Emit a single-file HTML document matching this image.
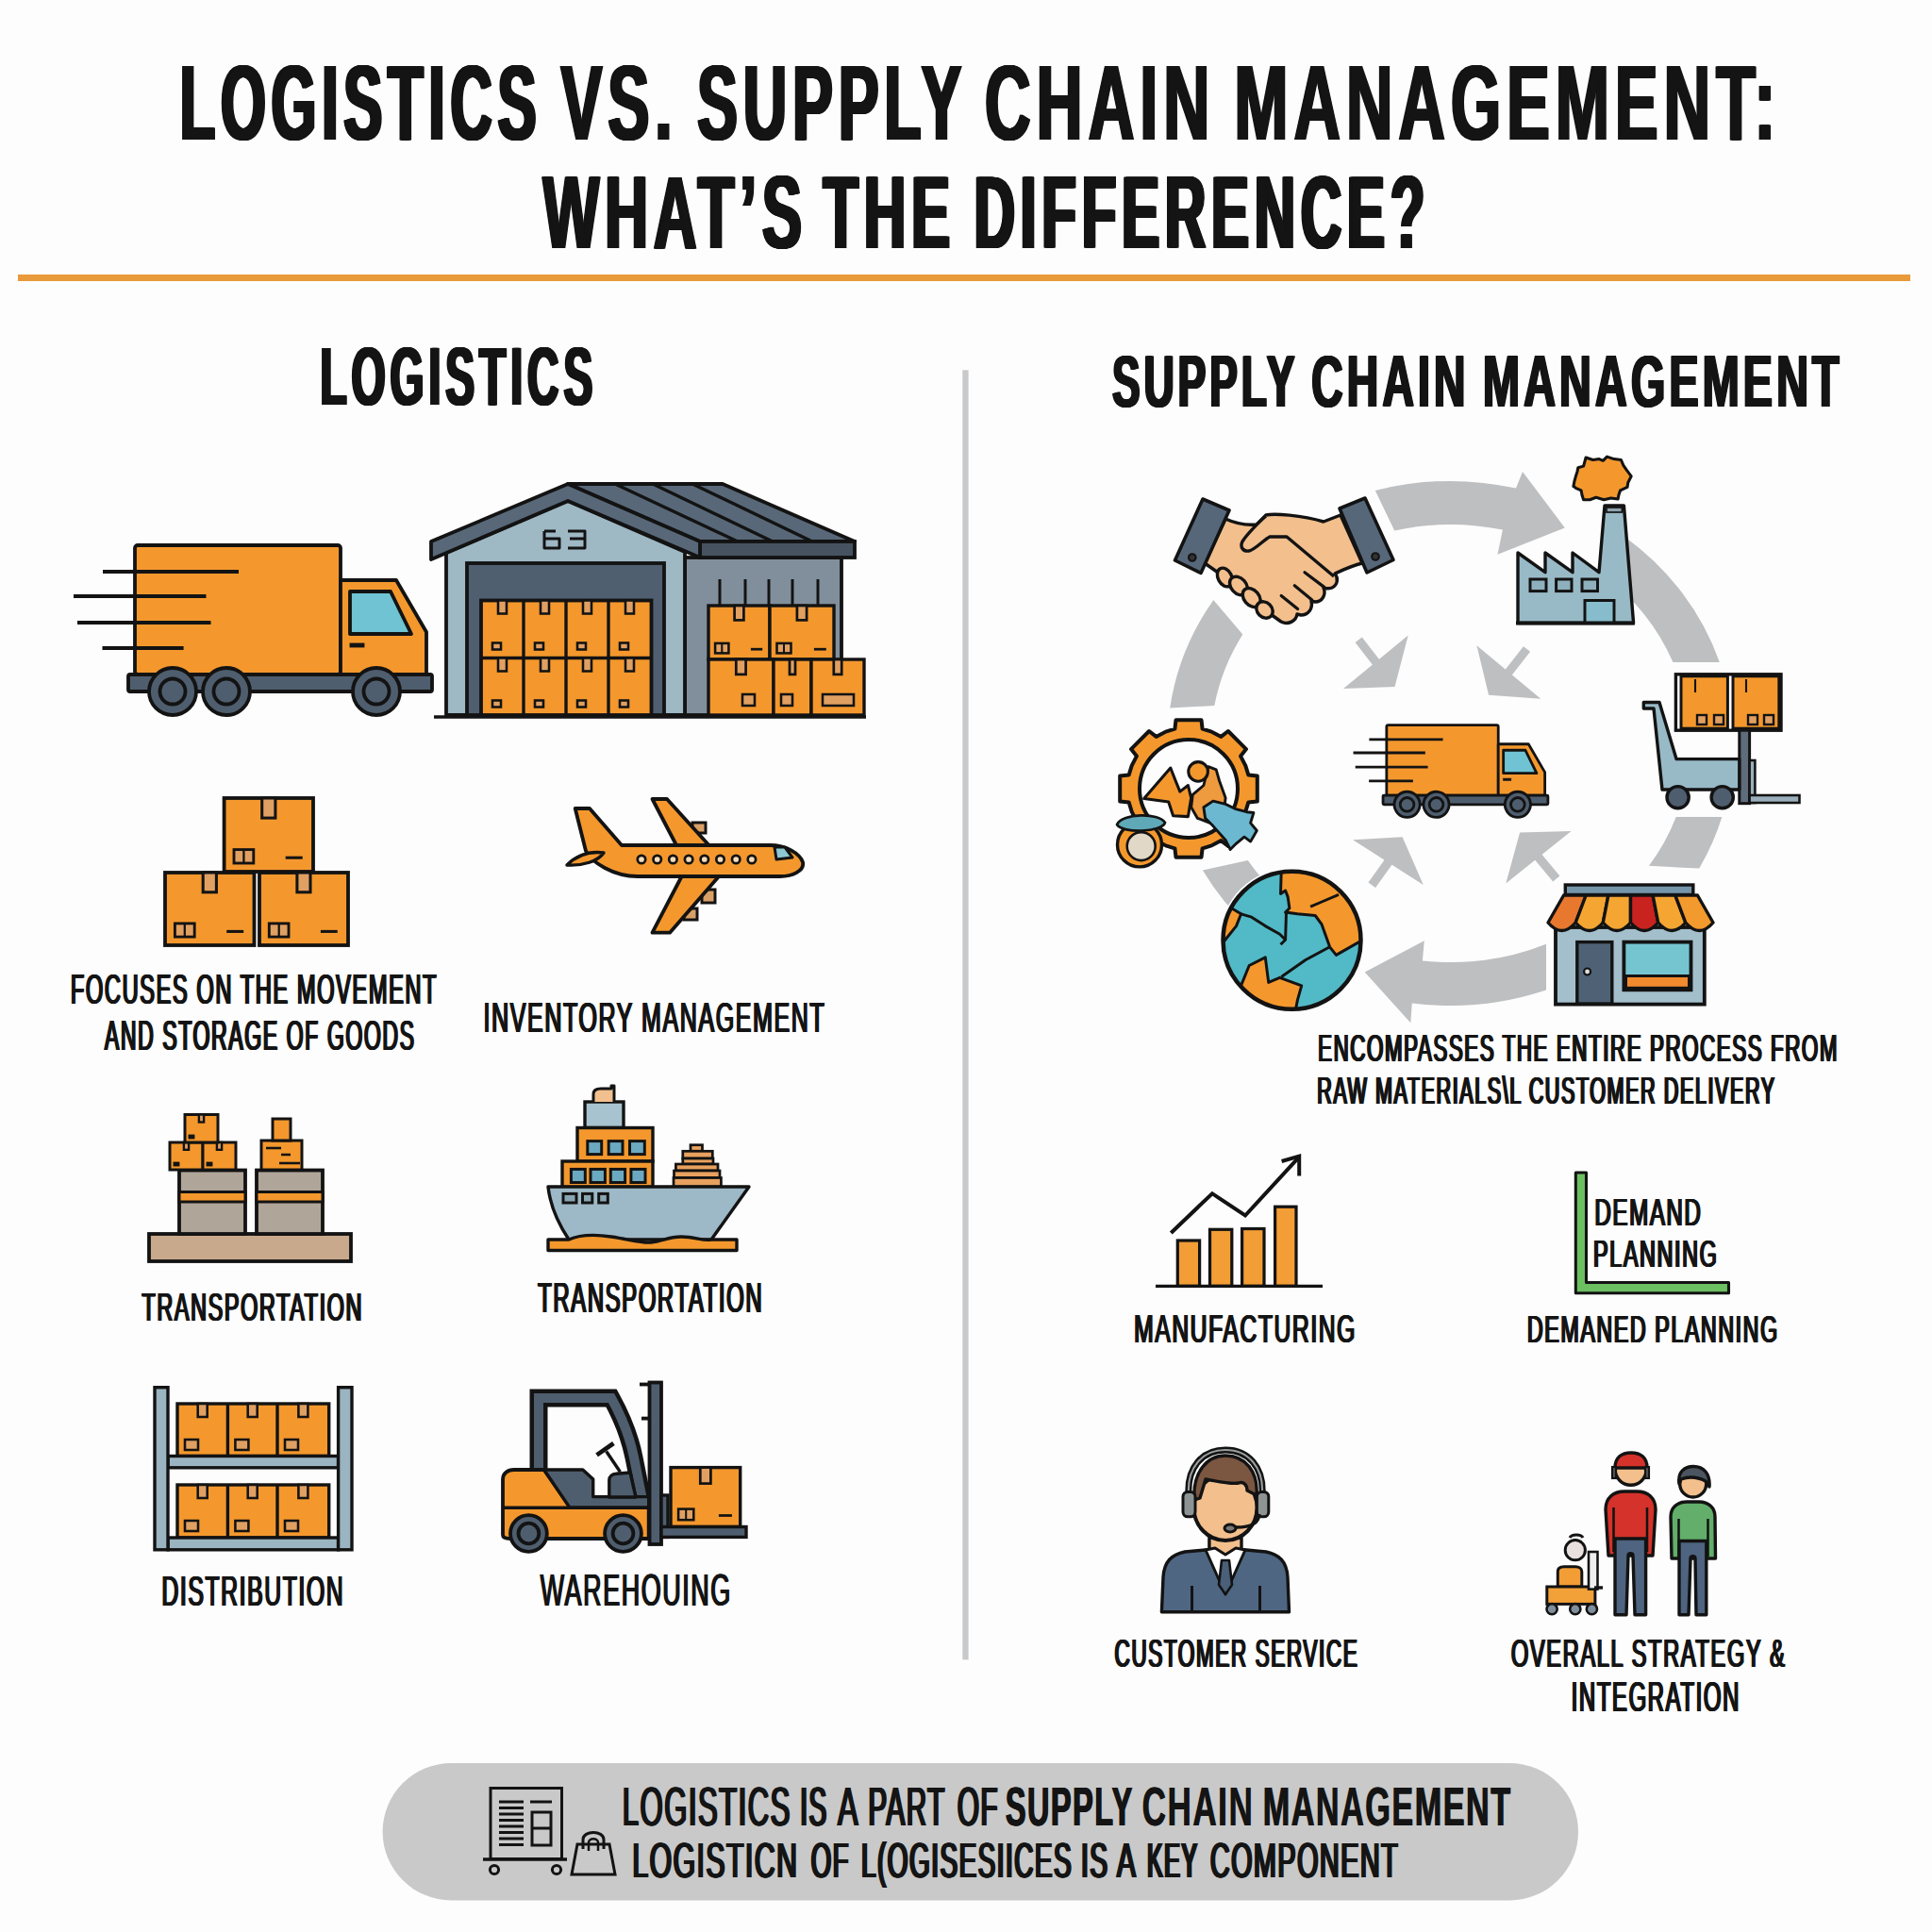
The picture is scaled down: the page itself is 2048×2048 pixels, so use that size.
<!DOCTYPE html>
<html><head><meta charset="utf-8"><title>Logistics vs Supply Chain Management</title>
<style>html,body{margin:0;padding:0;background:#FDFDFD;overflow:hidden;} svg{display:block;} text{font-family:"Liberation Sans",sans-serif;}</style>
</head><body>
<svg width="2048" height="2048" viewBox="0 0 2048 2048">
<rect width="2048" height="2048" fill="#FDFDFD"/>
<rect x="19" y="291" width="2006" height="7" fill="#E99A3B"/>
<rect x="1020.3" y="392.3" width="6.3" height="1367" fill="#C8C9CB"/>
<rect x="405.6" y="1869" width="1267.4" height="145.4" rx="72.7" fill="#C9C9C9"/>
<g fill="#BEBFC1"><path d="M1457.8,520.0 A300.0,278.0 0 0 1 1607.0,517.6 L1614.0,500.0 L1658.8,559.5 L1587.5,587.7 L1592.9,561.6 A254.0,232.0 0 0 0 1478.2,562.4 Z"/><path d="M1722.2,568.9 A300.0,278.0 0 0 1 1822.8,702.0 L1773.4,702.0 A254.0,232.0 0 0 0 1700.8,610.3 Z"/><path d="M1825.4,866.0 A300.0,278.0 0 0 1 1801.2,920.6 L1748.0,917.8 A254.0,232.0 0 0 0 1776.7,866.0 Z"/><path d="M1639.0,1049.6 A300.0,278.0 0 0 1 1496.8,1063.4 L1495.3,1084.3 L1446.7,1030.4 L1509.8,997.3 L1507.9,1018.4 A254.0,232.0 0 0 0 1639.0,1000.7 Z"/><path d="M1325.4,984.6 A300.0,278.0 0 0 1 1274.9,922.4 L1322.8,912.0 A254.0,232.0 0 0 0 1357.9,952.0 Z"/><path d="M1240.2,750.5 A300.0,278.0 0 0 1 1286.3,636.1 L1317.3,672.4 A254.0,232.0 0 0 0 1287.3,748.0 Z"/></g>
<g fill="#BEBFC1"><polygon points="1436.6,681.0 1443.8,675.4 1465.7,703.7 1458.4,709.3"/><polygon points="1492.7,673.5 1478.5,728.0 1424.0,730.0"/><polygon points="1614.9,685.2 1622.1,690.8 1599.3,720.1 1592.0,714.4"/><polygon points="1565.4,684.2 1578.1,736.7 1633.3,740.8"/><polygon points="1458.1,941.0 1450.5,935.6 1471.1,906.5 1478.8,911.9"/><polygon points="1434.1,890.2 1486.6,887.2 1508.8,938.0"/><polygon points="1653.4,928.6 1646.2,934.6 1623.5,907.2 1630.7,901.2"/><polygon points="1665.6,881.0 1611.1,882.4 1596.3,936.6"/></g>
<g><rect x="143.0" y="578.0" width="218.0" height="137.0" fill="#F4982D" stroke="#131313" stroke-width="3.82" rx="3"/><polygon points="361.0,615.0 420.0,615.0 452.0,670.0 452.0,715.0 361.0,715.0" fill="#F4982D" stroke="#131313" stroke-width="3.82" stroke-linejoin="round"/><polygon points="371.0,627.0 414.0,627.0 436.0,672.0 371.0,672.0" fill="#6FC3D2" stroke="#131313" stroke-width="3.82" stroke-linejoin="round"/><rect x="371.0" y="682.0" width="15.0" height="4.0" fill="#131313" stroke="#131313" stroke-width="0.85"/><rect x="136.0" y="715.0" width="322.0" height="18.0" fill="#4F5E6E" stroke="#131313" stroke-width="3.82" rx="2"/><circle cx="183.0" cy="733.0" r="25.0" fill="#4F5E6E" stroke="#131313" stroke-width="3.82"/><circle cx="183.0" cy="733.0" r="13.5" fill="#4F5E6E" stroke="#131313" stroke-width="3.82"/><circle cx="240.0" cy="733.0" r="25.0" fill="#4F5E6E" stroke="#131313" stroke-width="3.82"/><circle cx="240.0" cy="733.0" r="13.5" fill="#4F5E6E" stroke="#131313" stroke-width="3.82"/><circle cx="399.0" cy="733.0" r="25.0" fill="#4F5E6E" stroke="#131313" stroke-width="3.82"/><circle cx="399.0" cy="733.0" r="13.5" fill="#4F5E6E" stroke="#131313" stroke-width="3.82"/><line x1="109.0" y1="606.0" x2="253.0" y2="606.0" stroke="#131313" stroke-width="3.82" stroke-linecap="butt"/><line x1="78.0" y1="632.0" x2="218.5" y2="632.0" stroke="#131313" stroke-width="3.82" stroke-linecap="butt"/><line x1="82.0" y1="660.0" x2="223.5" y2="660.0" stroke="#131313" stroke-width="3.82" stroke-linecap="butt"/><line x1="108.5" y1="687.0" x2="194.6" y2="687.0" stroke="#131313" stroke-width="3.82" stroke-linecap="butt"/></g>
<g transform="translate(1392.2,454.8) scale(0.543)"><g><rect x="143.0" y="578.0" width="218.0" height="137.0" fill="#F4982D" stroke="#131313" stroke-width="5.16" rx="3"/><polygon points="361.0,615.0 420.0,615.0 452.0,670.0 452.0,715.0 361.0,715.0" fill="#F4982D" stroke="#131313" stroke-width="5.16" stroke-linejoin="round"/><polygon points="371.0,627.0 414.0,627.0 436.0,672.0 371.0,672.0" fill="#6FC3D2" stroke="#131313" stroke-width="5.16" stroke-linejoin="round"/><rect x="371.0" y="682.0" width="15.0" height="4.0" fill="#131313" stroke="#131313" stroke-width="1.15"/><rect x="136.0" y="715.0" width="322.0" height="18.0" fill="#4F5E6E" stroke="#131313" stroke-width="5.16" rx="2"/><circle cx="183.0" cy="733.0" r="25.0" fill="#4F5E6E" stroke="#131313" stroke-width="5.16"/><circle cx="183.0" cy="733.0" r="13.5" fill="#4F5E6E" stroke="#131313" stroke-width="5.16"/><circle cx="240.0" cy="733.0" r="25.0" fill="#4F5E6E" stroke="#131313" stroke-width="5.16"/><circle cx="240.0" cy="733.0" r="13.5" fill="#4F5E6E" stroke="#131313" stroke-width="5.16"/><circle cx="399.0" cy="733.0" r="25.0" fill="#4F5E6E" stroke="#131313" stroke-width="5.16"/><circle cx="399.0" cy="733.0" r="13.5" fill="#4F5E6E" stroke="#131313" stroke-width="5.16"/><line x1="109.0" y1="606.0" x2="253.0" y2="606.0" stroke="#131313" stroke-width="5.16" stroke-linecap="butt"/><line x1="78.0" y1="632.0" x2="218.5" y2="632.0" stroke="#131313" stroke-width="5.16" stroke-linecap="butt"/><line x1="82.0" y1="660.0" x2="223.5" y2="660.0" stroke="#131313" stroke-width="5.16" stroke-linecap="butt"/><line x1="108.5" y1="687.0" x2="194.6" y2="687.0" stroke="#131313" stroke-width="5.16" stroke-linecap="butt"/></g></g>
<g><rect x="726.0" y="591.0" width="166.0" height="167.0" fill="#808F9B" stroke="#131313" stroke-width="3.82"/><polygon points="473.0,586.0 602.0,531.0 726.0,585.0 726.0,758.0 473.0,758.0" fill="#9EB8C4" stroke="#131313" stroke-width="3.82" stroke-linejoin="round"/><polygon points="602.0,513.0 766.0,513.0 906.0,574.0 742.0,574.0" fill="#586878" stroke="#131313" stroke-width="3.82" stroke-linejoin="round"/><line x1="652.0" y1="513.0" x2="782.0" y2="574.0" stroke="#131313" stroke-width="3.40" stroke-linecap="butt"/><line x1="692.0" y1="513.0" x2="819.0" y2="574.0" stroke="#131313" stroke-width="3.40" stroke-linecap="butt"/><line x1="734.0" y1="513.0" x2="861.0" y2="574.0" stroke="#131313" stroke-width="3.40" stroke-linecap="butt"/><rect x="742.0" y="574.0" width="164.0" height="17.0" fill="#46525F" stroke="#131313" stroke-width="3.82"/><polygon points="457.0,574.0 602.0,513.0 742.0,574.0 742.0,591.0 602.0,531.0 457.0,593.0" fill="#586878" stroke="#131313" stroke-width="3.82" stroke-linejoin="round"/><path d="M577,563 L589,563 M577,563 L577,581 L593,581 L593,571 L577,571" fill="none" stroke="#131313" stroke-width="2.98" stroke-linejoin="round"/><path d="M602,563 L620,563 L620,581 L602,581 M604,571 L620,571" fill="none" stroke="#131313" stroke-width="2.98" stroke-linejoin="round"/><rect x="495.0" y="597.0" width="209.0" height="161.0" fill="#4F5F70" stroke="#131313" stroke-width="3.82"/><rect x="510.0" y="636.5" width="180.5" height="121.5" fill="#F4982D" stroke="#131313" stroke-width="3.82"/><line x1="555.0" y1="636.5" x2="555.0" y2="758.0" stroke="#131313" stroke-width="3.40" stroke-linecap="butt"/><line x1="600.0" y1="636.5" x2="600.0" y2="758.0" stroke="#131313" stroke-width="3.40" stroke-linecap="butt"/><line x1="645.0" y1="636.5" x2="645.0" y2="758.0" stroke="#131313" stroke-width="3.40" stroke-linecap="butt"/><line x1="510.0" y1="697.5" x2="690.5" y2="697.5" stroke="#131313" stroke-width="3.40" stroke-linecap="butt"/><rect x="528.0" y="636.5" width="9.0" height="14.0" fill="#E0A062" stroke="#131313" stroke-width="2.55"/><rect x="522.0" y="681.5" width="9.0" height="7.0" fill="#E0A062" stroke="#131313" stroke-width="2.55"/><rect x="528.0" y="697.5" width="9.0" height="14.0" fill="#E0A062" stroke="#131313" stroke-width="2.55"/><rect x="522.0" y="742.5" width="9.0" height="7.0" fill="#E0A062" stroke="#131313" stroke-width="2.55"/><rect x="573.0" y="636.5" width="9.0" height="14.0" fill="#E0A062" stroke="#131313" stroke-width="2.55"/><rect x="567.0" y="681.5" width="9.0" height="7.0" fill="#E0A062" stroke="#131313" stroke-width="2.55"/><rect x="573.0" y="697.5" width="9.0" height="14.0" fill="#E0A062" stroke="#131313" stroke-width="2.55"/><rect x="567.0" y="742.5" width="9.0" height="7.0" fill="#E0A062" stroke="#131313" stroke-width="2.55"/><rect x="618.0" y="636.5" width="9.0" height="14.0" fill="#E0A062" stroke="#131313" stroke-width="2.55"/><rect x="612.0" y="681.5" width="9.0" height="7.0" fill="#E0A062" stroke="#131313" stroke-width="2.55"/><rect x="618.0" y="697.5" width="9.0" height="14.0" fill="#E0A062" stroke="#131313" stroke-width="2.55"/><rect x="612.0" y="742.5" width="9.0" height="7.0" fill="#E0A062" stroke="#131313" stroke-width="2.55"/><rect x="663.0" y="636.5" width="9.0" height="14.0" fill="#E0A062" stroke="#131313" stroke-width="2.55"/><rect x="657.0" y="681.5" width="9.0" height="7.0" fill="#E0A062" stroke="#131313" stroke-width="2.55"/><rect x="663.0" y="697.5" width="9.0" height="14.0" fill="#E0A062" stroke="#131313" stroke-width="2.55"/><rect x="657.0" y="742.5" width="9.0" height="7.0" fill="#E0A062" stroke="#131313" stroke-width="2.55"/><line x1="763.0" y1="614.0" x2="763.0" y2="642.0" stroke="#131313" stroke-width="2.98" stroke-linecap="butt"/><line x1="790.0" y1="614.0" x2="790.0" y2="642.0" stroke="#131313" stroke-width="2.98" stroke-linecap="butt"/><line x1="815.0" y1="614.0" x2="815.0" y2="642.0" stroke="#131313" stroke-width="2.98" stroke-linecap="butt"/><line x1="840.0" y1="614.0" x2="840.0" y2="642.0" stroke="#131313" stroke-width="2.98" stroke-linecap="butt"/><line x1="867.0" y1="614.0" x2="867.0" y2="642.0" stroke="#131313" stroke-width="2.98" stroke-linecap="butt"/><rect x="751.0" y="642.0" width="65.0" height="57.0" fill="#F4982D" stroke="#131313" stroke-width="3.40"/><rect x="778.6" y="642.0" width="9.8" height="15.4" fill="#E0A062" stroke="#131313" stroke-width="2.72"/><rect x="758.1" y="681.9" width="14.3" height="10.5" fill="#E0A062" stroke="#131313" stroke-width="2.55"/><line x1="765.3" y1="681.9" x2="765.3" y2="692.4" stroke="#131313" stroke-width="2.04" stroke-linecap="butt"/><line x1="795.9" y1="688.2" x2="808.2" y2="688.2" stroke="#131313" stroke-width="2.72" stroke-linecap="butt"/><rect x="816.0" y="642.0" width="68.0" height="57.0" fill="#F4982D" stroke="#131313" stroke-width="3.40"/><rect x="844.9" y="642.0" width="10.2" height="15.4" fill="#E0A062" stroke="#131313" stroke-width="2.72"/><rect x="823.5" y="681.9" width="15.0" height="10.5" fill="#E0A062" stroke="#131313" stroke-width="2.55"/><line x1="831.0" y1="681.9" x2="831.0" y2="692.4" stroke="#131313" stroke-width="2.04" stroke-linecap="butt"/><line x1="862.9" y1="688.2" x2="875.8" y2="688.2" stroke="#131313" stroke-width="2.72" stroke-linecap="butt"/><rect x="751.0" y="699.0" width="69.0" height="59.0" fill="#F4982D" stroke="#131313" stroke-width="3.40"/><rect x="780.3" y="699.0" width="10.3" height="15.9" fill="#E0A062" stroke="#131313" stroke-width="2.72"/><rect x="820.0" y="699.0" width="40.0" height="59.0" fill="#F4982D" stroke="#131313" stroke-width="3.40"/><rect x="837.0" y="699.0" width="6.0" height="15.9" fill="#E0A062" stroke="#131313" stroke-width="2.72"/><rect x="860.0" y="699.0" width="56.0" height="59.0" fill="#F4982D" stroke="#131313" stroke-width="3.40"/><rect x="883.8" y="699.0" width="8.4" height="15.9" fill="#E0A062" stroke="#131313" stroke-width="2.72"/><rect x="787.0" y="736.0" width="13.0" height="12.0" fill="#E0A062" stroke="#131313" stroke-width="2.55"/><rect x="872.0" y="736.0" width="33.0" height="12.0" fill="#E0A062" stroke="#131313" stroke-width="2.55"/><rect x="828.0" y="736.0" width="12.0" height="12.0" fill="#E0A062" stroke="#131313" stroke-width="2.55"/><line x1="460.0" y1="760.0" x2="918.0" y2="760.0" stroke="#131313" stroke-width="3.40" stroke-linecap="butt"/></g>
<rect x="237.6" y="846.0" width="94.4" height="78.0" fill="#F4982D" stroke="#131313" stroke-width="3.82"/><rect x="277.7" y="846.0" width="14.2" height="21.1" fill="#E0A062" stroke="#131313" stroke-width="3.06"/><rect x="248.0" y="900.6" width="20.8" height="14.4" fill="#E0A062" stroke="#131313" stroke-width="2.87"/><line x1="258.4" y1="900.6" x2="258.4" y2="915.0" stroke="#131313" stroke-width="2.29" stroke-linecap="butt"/><line x1="302.7" y1="909.2" x2="320.7" y2="909.2" stroke="#131313" stroke-width="3.06" stroke-linecap="butt"/><rect x="175.0" y="925.0" width="94.5" height="77.0" fill="#F4982D" stroke="#131313" stroke-width="3.82"/><rect x="215.2" y="925.0" width="14.2" height="20.8" fill="#E0A062" stroke="#131313" stroke-width="3.06"/><rect x="185.4" y="978.9" width="20.8" height="14.2" fill="#E0A062" stroke="#131313" stroke-width="2.87"/><line x1="195.8" y1="978.9" x2="195.8" y2="993.1" stroke="#131313" stroke-width="2.29" stroke-linecap="butt"/><line x1="240.2" y1="987.4" x2="258.2" y2="987.4" stroke="#131313" stroke-width="3.06" stroke-linecap="butt"/><rect x="275.0" y="925.0" width="94.0" height="77.0" fill="#F4982D" stroke="#131313" stroke-width="3.82"/><rect x="314.9" y="925.0" width="14.1" height="20.8" fill="#E0A062" stroke="#131313" stroke-width="3.06"/><rect x="285.3" y="978.9" width="20.7" height="14.2" fill="#E0A062" stroke="#131313" stroke-width="2.87"/><line x1="295.7" y1="978.9" x2="295.7" y2="993.1" stroke="#131313" stroke-width="2.29" stroke-linecap="butt"/><line x1="339.9" y1="987.4" x2="357.7" y2="987.4" stroke="#131313" stroke-width="3.06" stroke-linecap="butt"/>
<g><rect x="734.0" y="872.0" width="14.0" height="11.0" fill="#D9A066" stroke="#131313" stroke-width="2.98"/><rect x="744.0" y="943.0" width="14.0" height="14.0" fill="#D9A066" stroke="#131313" stroke-width="2.98"/><rect x="725.0" y="963.0" width="14.0" height="12.0" fill="#D9A066" stroke="#131313" stroke-width="2.98"/><polygon points="691.5,847.0 707.0,847.0 751.5,896.0 717.0,896.0" fill="#F4982D" stroke="#131313" stroke-width="3.82" stroke-linejoin="round"/><path d="M659,896 L625,857 L609.7,857 L621,902 C627,914 650,929 676,929 L827,929 C840,929 853,923 851,914 C848,905 834,896 816,896 Z" fill="#F4982D" stroke="#131313" stroke-width="3.82" stroke-linejoin="round"/><path d="M601,917 C611,907 624,902 640,904 C634,913 618,918 601,917 Z" fill="#F4982D" stroke="#131313" stroke-width="3.40" stroke-linejoin="round"/><polygon points="722.6,929.0 762.0,929.0 710.0,988.7 691.5,988.7" fill="#F4982D" stroke="#131313" stroke-width="3.82" stroke-linejoin="round"/><polygon points="821.0,898.0 832.0,898.0 840.0,909.0 823.0,911.0" fill="#8DC8D3" stroke="#131313" stroke-width="2.98" stroke-linejoin="round"/><circle cx="680.0" cy="911.0" r="4.2" fill="#F6DDBA" stroke="#131313" stroke-width="2.72"/><circle cx="696.7" cy="911.0" r="4.2" fill="#F6DDBA" stroke="#131313" stroke-width="2.72"/><circle cx="713.4" cy="911.0" r="4.2" fill="#F6DDBA" stroke="#131313" stroke-width="2.72"/><circle cx="730.1" cy="911.0" r="4.2" fill="#F6DDBA" stroke="#131313" stroke-width="2.72"/><circle cx="746.8" cy="911.0" r="4.2" fill="#F6DDBA" stroke="#131313" stroke-width="2.72"/><circle cx="763.5" cy="911.0" r="4.2" fill="#F6DDBA" stroke="#131313" stroke-width="2.72"/><circle cx="780.2" cy="911.0" r="4.2" fill="#F6DDBA" stroke="#131313" stroke-width="2.72"/><circle cx="796.9" cy="911.0" r="4.2" fill="#F6DDBA" stroke="#131313" stroke-width="2.72"/></g>
<g><rect x="158.0" y="1308.0" width="214.0" height="29.0" fill="#C9A98B" stroke="#131313" stroke-width="3.82"/><rect x="190.0" y="1240.5" width="70.0" height="67.5" fill="#B0A599" stroke="#131313" stroke-width="3.82"/><rect x="190.0" y="1263.5" width="70.0" height="10.5" fill="#F4982D" stroke="#131313" stroke-width="2.98"/><rect x="272.0" y="1240.5" width="70.0" height="67.5" fill="#B0A599" stroke="#131313" stroke-width="3.82"/><rect x="272.0" y="1263.5" width="70.0" height="10.5" fill="#F4982D" stroke="#131313" stroke-width="2.98"/><rect x="180.0" y="1211.0" width="35.0" height="29.0" fill="#F4982D" stroke="#131313" stroke-width="2.98"/><rect x="194.9" y="1211.0" width="5.2" height="7.8" fill="#E0A062" stroke="#131313" stroke-width="2.38"/><rect x="215.0" y="1211.0" width="35.0" height="29.0" fill="#F4982D" stroke="#131313" stroke-width="2.98"/><rect x="229.9" y="1211.0" width="5.2" height="7.8" fill="#E0A062" stroke="#131313" stroke-width="2.38"/><rect x="196.0" y="1181.5" width="35.0" height="29.5" fill="#F4982D" stroke="#131313" stroke-width="2.98"/><rect x="210.9" y="1181.5" width="5.2" height="8.0" fill="#E0A062" stroke="#131313" stroke-width="2.38"/><rect x="277.0" y="1209.0" width="43.0" height="31.0" fill="#F4982D" stroke="#131313" stroke-width="2.98"/><rect x="289.0" y="1186.0" width="19.0" height="23.0" fill="#F4982D" stroke="#131313" stroke-width="2.98"/><line x1="282.0" y1="1217.0" x2="298.0" y2="1217.0" stroke="#131313" stroke-width="2.55" stroke-linecap="butt"/><line x1="298.0" y1="1224.0" x2="308.0" y2="1224.0" stroke="#131313" stroke-width="2.55" stroke-linecap="butt"/><line x1="296.0" y1="1233.0" x2="318.0" y2="1233.0" stroke="#131313" stroke-width="2.55" stroke-linecap="butt"/><rect x="184.0" y="1232.0" width="6.0" height="4.0" fill="#131313" stroke="#131313" stroke-width="0.85"/><rect x="219.0" y="1232.0" width="6.0" height="4.0" fill="#131313" stroke="#131313" stroke-width="0.85"/><rect x="200.0" y="1203.0" width="6.0" height="4.0" fill="#131313" stroke="#131313" stroke-width="0.85"/></g>
<g><rect x="620.0" y="1168.0" width="41.0" height="27.5" fill="#A7C3D0" stroke="#131313" stroke-width="3.40"/><path d="M629,1168 L629,1160 C629,1156 632,1154 637,1154 L648,1154 L648,1151 L651,1151 L651,1168" fill="#F2C08F" stroke="#131313" stroke-width="2.98" stroke-linejoin="round"/><rect x="612.0" y="1195.5" width="80.0" height="35.5" fill="#F4982D" stroke="#131313" stroke-width="3.40"/><rect x="596.0" y="1231.0" width="96.0" height="27.4" fill="#F4982D" stroke="#131313" stroke-width="3.40"/><rect x="622.8" y="1209.6" width="14.9" height="14.0" fill="#6BA9C1" stroke="#131313" stroke-width="2.98"/><rect x="645.2" y="1209.6" width="14.8" height="14.0" fill="#6BA9C1" stroke="#131313" stroke-width="2.98"/><rect x="667.5" y="1209.6" width="15.8" height="14.0" fill="#6BA9C1" stroke="#131313" stroke-width="2.98"/><rect x="605.4" y="1239.4" width="14.9" height="14.1" fill="#6BA9C1" stroke="#131313" stroke-width="2.98"/><rect x="626.0" y="1239.4" width="15.4" height="14.1" fill="#6BA9C1" stroke="#131313" stroke-width="2.98"/><rect x="647.3" y="1239.4" width="15.3" height="14.1" fill="#6BA9C1" stroke="#131313" stroke-width="2.98"/><rect x="668.9" y="1239.4" width="15.1" height="14.1" fill="#6BA9C1" stroke="#131313" stroke-width="2.98"/><rect x="732.0" y="1213.7" width="12.5" height="6.6" fill="#E8A15E" stroke="#131313" stroke-width="2.72"/><rect x="723.8" y="1220.3" width="31.5" height="7.7" fill="#E8A15E" stroke="#131313" stroke-width="2.72"/><rect x="723.8" y="1228.0" width="32.2" height="6.0" fill="#E8A15E" stroke="#131313" stroke-width="2.72"/><rect x="716.4" y="1234.0" width="44.6" height="7.0" fill="#E8A15E" stroke="#131313" stroke-width="2.72"/><rect x="714.5" y="1241.0" width="48.5" height="7.5" fill="#E8A15E" stroke="#131313" stroke-width="2.72"/><rect x="714.0" y="1248.5" width="50.4" height="9.5" fill="#E8A15E" stroke="#131313" stroke-width="2.72"/><path d="M581,1258 L794,1258 L754,1314 L603,1314 C591,1296 583,1276 581,1258 Z" fill="#9DB8C6" stroke="#131313" stroke-width="3.40" stroke-linejoin="round"/><rect x="597.0" y="1265.4" width="14.0" height="9.6" fill="#8AA5B3" stroke="#131313" stroke-width="2.98"/><rect x="617.5" y="1265.4" width="10.3" height="9.6" fill="#8AA5B3" stroke="#131313" stroke-width="2.98"/><rect x="634.7" y="1265.4" width="9.6" height="9.6" fill="#8AA5B3" stroke="#131313" stroke-width="2.98"/><path d="M581,1314 L603,1314 C612,1310 628,1308 648,1311 C668,1314 680,1318 690,1317 C702,1316 708,1311 722,1311 C738,1311 745,1316 754,1314 L781,1314 L781,1325.5 L581,1325.5 Z" fill="#F4982D" stroke="#131313" stroke-width="3.40" stroke-linejoin="round"/></g>
<g><rect x="188.0" y="1488.0" width="160.7" height="55.5" fill="#F4982D" stroke="#131313" stroke-width="3.40"/><rect x="188.0" y="1574.0" width="160.7" height="56.0" fill="#F4982D" stroke="#131313" stroke-width="3.40"/><line x1="241.4" y1="1488.0" x2="241.4" y2="1543.5" stroke="#131313" stroke-width="3.40" stroke-linecap="butt"/><line x1="241.4" y1="1574.0" x2="241.4" y2="1630.0" stroke="#131313" stroke-width="3.40" stroke-linecap="butt"/><line x1="294.0" y1="1488.0" x2="294.0" y2="1543.5" stroke="#131313" stroke-width="3.40" stroke-linecap="butt"/><line x1="294.0" y1="1574.0" x2="294.0" y2="1630.0" stroke="#131313" stroke-width="3.40" stroke-linecap="butt"/><rect x="209.7" y="1488.0" width="10.0" height="14.0" fill="#E0A062" stroke="#131313" stroke-width="2.55"/><rect x="196.0" y="1526.0" width="14.0" height="11.0" fill="#E0A062" stroke="#131313" stroke-width="2.55"/><rect x="209.7" y="1574.0" width="10.0" height="14.0" fill="#E0A062" stroke="#131313" stroke-width="2.55"/><rect x="196.0" y="1612.0" width="14.0" height="11.0" fill="#E0A062" stroke="#131313" stroke-width="2.55"/><rect x="262.7" y="1488.0" width="10.0" height="14.0" fill="#E0A062" stroke="#131313" stroke-width="2.55"/><rect x="249.4" y="1526.0" width="14.0" height="11.0" fill="#E0A062" stroke="#131313" stroke-width="2.55"/><rect x="262.7" y="1574.0" width="10.0" height="14.0" fill="#E0A062" stroke="#131313" stroke-width="2.55"/><rect x="249.4" y="1612.0" width="14.0" height="11.0" fill="#E0A062" stroke="#131313" stroke-width="2.55"/><rect x="316.4" y="1488.0" width="10.0" height="14.0" fill="#E0A062" stroke="#131313" stroke-width="2.55"/><rect x="302.0" y="1526.0" width="14.0" height="11.0" fill="#E0A062" stroke="#131313" stroke-width="2.55"/><rect x="316.4" y="1574.0" width="10.0" height="14.0" fill="#E0A062" stroke="#131313" stroke-width="2.55"/><rect x="302.0" y="1612.0" width="14.0" height="11.0" fill="#E0A062" stroke="#131313" stroke-width="2.55"/><rect x="178.0" y="1543.5" width="180.6" height="12.3" fill="#9BB4C1" stroke="#131313" stroke-width="3.40"/><rect x="178.0" y="1630.0" width="180.6" height="12.8" fill="#9BB4C1" stroke="#131313" stroke-width="3.40"/><rect x="164.0" y="1470.7" width="14.0" height="172.1" fill="#9BB4C1" stroke="#131313" stroke-width="3.40"/><rect x="358.6" y="1470.7" width="14.4" height="172.1" fill="#9BB4C1" stroke="#131313" stroke-width="3.40"/></g>
<g><path d="M571,1560 L571,1482 L648,1482 C658,1500 667,1520 672,1545 L681,1590" fill="none" stroke="#131313" stroke-width="19" stroke-linejoin="miter"/><path d="M571,1560 L571,1482 L648,1482 C658,1500 667,1520 672,1545 L681,1590" fill="none" stroke="#4F5E6E" stroke-width="10" stroke-linejoin="miter"/><line x1="632.6" y1="1542.4" x2="650.4" y2="1530.0" stroke="#131313" stroke-width="4.67" stroke-linecap="butt"/><line x1="642.7" y1="1538.5" x2="657.4" y2="1560.2" stroke="#131313" stroke-width="3.40" stroke-linecap="butt"/><path d="M533,1627 L533,1568 C533,1562 538,1558 545,1558 L576.7,1558 L604,1597 L687.7,1597 L687.7,1631 L541,1631 C537,1631 533,1630 533,1627 Z" fill="#F4982D" stroke="#131313" stroke-width="3.82" stroke-linejoin="round"/><polygon points="576.7,1558.0 617.8,1558.0 628.7,1568.0 628.7,1586.6 687.7,1586.6 687.7,1598.3 604.0,1598.3" fill="#4F5E6E" stroke="#131313" stroke-width="3.40" stroke-linejoin="round"/><path d="M645.8,1587 L645.8,1569 C645.8,1565 649,1562.5 653,1562.3 L668,1561 L674,1587 Z" fill="#4F5E6E" stroke="#131313" stroke-width="3.40" stroke-linejoin="round"/><line x1="533.0" y1="1598.3" x2="687.7" y2="1598.3" stroke="#131313" stroke-width="3.40" stroke-linecap="butt"/><circle cx="560.4" cy="1625.5" r="19.4" fill="#4F5E6E" stroke="#131313" stroke-width="3.82"/><circle cx="560.4" cy="1625.5" r="10.9" fill="#4F5E6E" stroke="#131313" stroke-width="3.82"/><circle cx="660.5" cy="1625.5" r="19.4" fill="#4F5E6E" stroke="#131313" stroke-width="3.82"/><circle cx="660.5" cy="1625.5" r="10.9" fill="#4F5E6E" stroke="#131313" stroke-width="3.82"/><rect x="688.5" y="1465.5" width="12.5" height="171.5" fill="#4F5E6E" stroke="#131313" stroke-width="3.82"/><line x1="678.0" y1="1467.5" x2="690.0" y2="1467.5" stroke="#131313" stroke-width="3.82" stroke-linecap="butt"/><line x1="680.0" y1="1503.6" x2="690.0" y2="1503.6" stroke="#131313" stroke-width="3.82" stroke-linecap="butt"/><rect x="711.0" y="1555.6" width="73.7" height="62.9" fill="#F4982D" stroke="#131313" stroke-width="3.40"/><rect x="742.3" y="1555.6" width="11.1" height="17.0" fill="#E0A062" stroke="#131313" stroke-width="2.72"/><rect x="719.1" y="1599.6" width="16.2" height="11.6" fill="#E0A062" stroke="#131313" stroke-width="2.55"/><line x1="727.2" y1="1599.6" x2="727.2" y2="1611.3" stroke="#131313" stroke-width="2.04" stroke-linecap="butt"/><line x1="761.9" y1="1606.5" x2="775.9" y2="1606.5" stroke="#131313" stroke-width="2.72" stroke-linecap="butt"/><rect x="701.0" y="1585.0" width="7.0" height="44.4" fill="#4F5E6E" stroke="#131313" stroke-width="3.40"/><rect x="701.0" y="1618.5" width="90.0" height="10.9" fill="#4F5E6E" stroke="#131313" stroke-width="3.40"/></g>
<g><path d="M1299,550 C1310,555 1322,557 1332,556 L1342,546 C1350,544 1380,546 1403,553 L1421,546 L1444,597 C1432,600 1424,604 1415,608 C1419,613 1418,620 1412,623 C1409,624 1406,624 1403,623 C1406,630 1402,638 1394,638 L1390,637 C1392,645 1387,652 1379,652 L1375,651 C1374,658 1366,663 1358,659 L1340.5,646.5 L1326.7,633.5 L1313,620.8 L1298.4,612 L1277,597 Z" fill="#F2BF8D" stroke="#131313" stroke-width="3.40" stroke-linejoin="round"/><ellipse cx="1298.4" cy="612" rx="10.5" ry="7.2" transform="rotate(62 1298.4 612)" fill="#F2BF8D" stroke="#131313" stroke-width="3.4"/><ellipse cx="1313" cy="621" rx="11" ry="8" transform="rotate(48 1313 621)" fill="#F2BF8D" stroke="#131313" stroke-width="3.4"/><ellipse cx="1326.7" cy="633.5" rx="11.2" ry="8" transform="rotate(50 1326.7 633.5)" fill="#F2BF8D" stroke="#131313" stroke-width="3.4"/><ellipse cx="1340.5" cy="646.5" rx="9.5" ry="7.8" transform="rotate(45 1340.5 646.5)" fill="#F2BF8D" stroke="#131313" stroke-width="3.4"/><path d="M1342,547 C1336,552 1322,566 1317,574 C1314,580 1318,585 1324,584 C1330,583 1340,572 1346,569 L1364,569 L1414,611" fill="#F2BF8D" stroke="#131313" stroke-width="3.40" stroke-linejoin="round"/><line x1="1383.0" y1="606.7" x2="1403.7" y2="622.4" stroke="#131313" stroke-width="3.23" stroke-linecap="round"/><line x1="1372.3" y1="620.8" x2="1390.5" y2="635.7" stroke="#131313" stroke-width="3.23" stroke-linecap="round"/><line x1="1358.2" y1="631.5" x2="1375.6" y2="645.6" stroke="#131313" stroke-width="3.23" stroke-linecap="round"/><polygon points="1275.0,529.0 1303.0,541.0 1273.0,607.5 1245.5,594.0" fill="#56677A" stroke="#131313" stroke-width="3.57" stroke-linejoin="round"/><polygon points="1420.0,539.0 1447.0,528.0 1477.0,593.5 1449.0,607.0" fill="#56677A" stroke="#131313" stroke-width="3.57" stroke-linejoin="round"/><circle cx="1263.8" cy="591.0" r="3.8" fill="#333" stroke="#131313" stroke-width="2.12"/><circle cx="1458.0" cy="590.0" r="3.8" fill="#333" stroke="#131313" stroke-width="2.12"/></g>
<g><path d="M1681.1,485.0 L1688.6,487.5 L1695.2,486.6 L1699.3,488.3 L1703.5,484.1 L1710.9,486.6 L1718.4,487.5 L1720.9,493.3 L1724.2,498.2 L1729.2,504.8 L1725.8,511.5 L1725.0,516.4 L1717.6,519.8 L1715.9,524.7 L1715.1,528.9 L1707.6,528.0 L1700.2,529.7 L1691.9,527.2 L1685.3,529.7 L1678.6,529.7 L1677.0,524.7 L1676.1,519.8 L1670.4,517.3 L1667.9,515.6 L1669.0,509.8 L1670.4,504.8 L1672.0,499.9 L1672.8,495.7 L1678.6,494.1 Z" fill="#F4982D" stroke="#131313" stroke-width="3.06" stroke-linejoin="round"/><path d="M1609,660.5 L1609,586 L1638,606.7 L1638,586 L1667,606.7 L1667,586 L1695,606.7 L1701,536 L1721.4,536 L1731.6,660.5 Z" fill="#98BAC6" stroke="#131313" stroke-width="3.40" stroke-linejoin="round"/><rect x="1703.0" y="538.0" width="16.4" height="5.0" fill="#8FA3AE" stroke="#131313" stroke-width="1.70"/><rect x="1622.0" y="614.0" width="17.0" height="12.6" fill="#8DB0BC" stroke="#131313" stroke-width="2.98"/><rect x="1649.6" y="614.0" width="16.4" height="12.6" fill="#8DB0BC" stroke="#131313" stroke-width="2.98"/><rect x="1677.0" y="614.0" width="16.5" height="12.6" fill="#8DB0BC" stroke="#131313" stroke-width="2.98"/><rect x="1680.0" y="636.5" width="31.0" height="24.0" fill="#86BCCB" stroke="#131313" stroke-width="2.98"/><line x1="1607.0" y1="660.5" x2="1733.0" y2="660.5" stroke="#131313" stroke-width="3.82" stroke-linecap="butt"/></g>
<g><rect x="1776.4" y="714.8" width="111.6" height="59.4" fill="#FFFFFF" stroke="#131313" stroke-width="3.40"/><rect x="1782.0" y="716.8" width="49.4" height="55.4" fill="#F4982D" stroke="#131313" stroke-width="2.98"/><rect x="1837.0" y="716.8" width="48.8" height="55.4" fill="#F4982D" stroke="#131313" stroke-width="2.98"/><rect x="1799.0" y="758.0" width="10.0" height="10.0" fill="#E0A062" stroke="#131313" stroke-width="2.38"/><rect x="1817.0" y="758.0" width="10.0" height="10.0" fill="#E0A062" stroke="#131313" stroke-width="2.38"/><rect x="1853.0" y="758.0" width="10.0" height="10.0" fill="#E0A062" stroke="#131313" stroke-width="2.38"/><rect x="1870.0" y="758.0" width="10.0" height="10.0" fill="#E0A062" stroke="#131313" stroke-width="2.38"/><line x1="1797.0" y1="720.0" x2="1797.0" y2="734.0" stroke="#131313" stroke-width="2.12" stroke-linecap="butt"/><line x1="1851.0" y1="720.0" x2="1851.0" y2="734.0" stroke="#131313" stroke-width="2.12" stroke-linecap="butt"/><rect x="1843.8" y="774.2" width="10.8" height="77.5" fill="#5E6C7B" stroke="#131313" stroke-width="2.98"/><rect x="1854.6" y="806.0" width="5.8" height="45.0" fill="#9AAFBB" stroke="#131313" stroke-width="2.55"/><rect x="1854.6" y="843.0" width="52.9" height="8.0" fill="#9AAFBB" stroke="#131313" stroke-width="2.55"/><path d="M1742.3,744.5 L1759,744.5 L1777,804.6 L1843.8,804.6 L1843.8,837 L1762,837 L1753,751 L1742.3,751 Z" fill="#98BAC6" stroke="#131313" stroke-width="3.40" stroke-linejoin="round"/><circle cx="1778.6" cy="845.2" r="11.6" fill="#4F5E6E" stroke="#131313" stroke-width="3.40"/><circle cx="1825.7" cy="845.2" r="11.6" fill="#4F5E6E" stroke="#131313" stroke-width="3.40"/></g>
<g><path d="M1235.7,775.7 L1245.4,772.7 L1246.5,763.2 L1273.5,763.2 L1274.6,772.7 L1284.3,775.7 L1285.4,776.2 L1294.4,780.9 L1301.9,775.0 L1321.0,794.1 L1315.1,801.6 L1319.8,810.6 L1320.3,811.7 L1323.3,821.4 L1332.8,822.5 L1332.8,849.5 L1323.3,850.6 L1320.3,860.3 L1319.8,861.4 L1315.1,870.4 L1321.0,877.9 L1301.9,897.0 L1294.4,891.1 L1285.4,895.8 L1284.3,896.3 L1274.6,899.3 L1273.5,908.8 L1246.5,908.8 L1245.4,899.3 L1235.7,896.3 L1234.6,895.8 L1225.6,891.1 L1218.1,897.0 L1199.0,877.9 L1204.9,870.4 L1200.2,861.4 L1199.7,860.3 L1196.7,850.6 L1187.2,849.5 L1187.2,822.5 L1196.7,821.4 L1199.7,811.7 L1200.2,810.6 L1204.9,801.6 L1199.0,794.1 L1218.1,775.0 L1225.6,780.9 L1234.6,776.2 Z M1312,836 A52,52 0 1 0 1208,836 A52,52 0 1 0 1312,836 Z" fill="#F4982D" fill-rule="evenodd" stroke="#131313" stroke-width="4" stroke-linejoin="round"/><path d="M1240.8,814.0 L1246.1,827.5 L1250.8,839.1 L1259.4,832.5 L1262.7,845.8 L1259.4,865.6 L1243.6,864.8 L1238.7,849.9 L1212.7,846.6 Z" fill="#F4982D" stroke="#131313" stroke-width="3.06" stroke-linejoin="round"/><path d="M1280.9,812.6 L1289.2,815.9 L1292.5,827.5 L1299.1,845.8 L1297.5,859.0 L1292.5,865.6 L1282.6,872.3 L1269.3,867.3 L1262.7,855.7 L1264.3,842.4 L1275.9,832.5 Z" fill="#EE9A3F" stroke="#131313" stroke-width="2.89" stroke-linejoin="round"/><circle cx="1270.1" cy="817.9" r="10.3" fill="#F4982D" stroke="#131313" stroke-width="3.06"/><path d="M1275.9,855.7 L1285.9,849.1 L1299.1,852.4 L1309.1,857.3 L1321.5,860.7 L1328.9,861.5 L1325.6,872.3 L1332.3,880.5 L1325.6,892.1 L1319.0,887.2 L1309.1,895.4 L1304.1,900.4 L1299.1,890.5 L1285.9,875.6 L1277.6,867.3 Z" fill="#6BB8D0" stroke="#131313" stroke-width="2.89" stroke-linejoin="round"/><circle cx="1208.0" cy="895.4" r="23.5" fill="#F4982D" stroke="#131313" stroke-width="3.40"/><circle cx="1209.7" cy="897.1" r="15.0" fill="#E2D8C8" stroke="#131313" stroke-width="2.55"/><path d="M1184,874 C1190,862 1228,861 1235,872 C1232,882 1190,884 1184,874 Z" fill="#5FA8B8" stroke="#131313" stroke-width="2.72" stroke-linejoin="round"/></g>
<g><circle cx="1369.5" cy="996.8" r="77" fill="#FDFDFD"/><clipPath id="gclip"><circle cx="1369.5" cy="996.8" r="73"/></clipPath><circle cx="1369.5" cy="996.8" r="73" fill="#52B9C6"/><g clip-path="url(#gclip)"><path d="M1358.3,920.1 L1357.5,947.5 L1362.6,944.0 L1365.2,950.9 L1366.9,962.8 L1362.6,967.1 L1375.4,968.8 L1394.2,970.5 L1401.1,979.9 L1409.6,1003.8 L1416.4,1012.4 L1452.3,991.9 L1452.3,920.1 Z" fill="#F4982D" stroke="#131313" stroke-width="2.98" stroke-linejoin="round"/><path d="M1290.0,959.4 L1305.4,962.8 L1315.6,968.8 L1310.5,981.6 L1296.8,998.7 L1290.0,1000.4 Z" fill="#F4982D" stroke="#131313" stroke-width="2.98" stroke-linejoin="round"/><path d="M1307.1,1060.2 L1314.8,1046.6 L1324.2,1023.5 L1341.3,1014.9 L1344.7,1041.4 L1356.6,1036.3 L1379.7,1044.8 L1375.4,1060.2 L1372.0,1077.3 L1307.1,1077.3 Z" fill="#F4982D" stroke="#131313" stroke-width="2.98" stroke-linejoin="round"/><path d="M1315.6,968.8 L1326.7,972.2 L1341.3,981.6 L1356.6,990.2 L1362.6,996.2 L1357.5,1001.3" fill="none" stroke="#131313" stroke-width="2.98" stroke-linejoin="round"/><path d="M1362.6,996.2 L1363.5,967.1" fill="none" stroke="#131313" stroke-width="2.98" stroke-linejoin="round"/><path d="M1358.3,1035.5 L1384.0,1017.5 L1409.6,1003.8" fill="none" stroke="#131313" stroke-width="2.98" stroke-linejoin="round"/><path d="M1389.1,961.1 L1401.1,956.0 L1419.0,948.3" fill="none" stroke="#131313" stroke-width="2.98" stroke-linejoin="round"/></g><circle cx="1369.5" cy="996.8" r="73" fill="none" stroke="#131313" stroke-width="4.5"/></g>
<g><rect x="1649.0" y="983.0" width="157.8" height="81.6" fill="#A3BFCB" stroke="#131313" stroke-width="3.82"/><rect x="1659.3" y="938.0" width="135.5" height="10.5" fill="#7595AA" stroke="#131313" stroke-width="3.40"/><path d="M1657.6,949 L1681.2,949 L1670.2,978 Q1655.6,995 1641.0,978 Z" fill="#E9782F" stroke="#131313" stroke-width="3.40" stroke-linejoin="round"/><path d="M1681.2,949 L1704.9,949 L1699.3,978 Q1684.8,995 1670.2,978 Z" fill="#F5A532" stroke="#131313" stroke-width="3.40" stroke-linejoin="round"/><path d="M1704.9,949 L1728.5,949 L1728.5,978 Q1713.9,995 1699.3,978 Z" fill="#F5A532" stroke="#131313" stroke-width="3.40" stroke-linejoin="round"/><path d="M1728.5,949 L1752.1,949 L1757.7,978 Q1743.1,995 1728.5,978 Z" fill="#C8231F" stroke="#131313" stroke-width="3.40" stroke-linejoin="round"/><path d="M1752.1,949 L1775.8,949 L1786.8,978 Q1772.2,995 1757.7,978 Z" fill="#F5A532" stroke="#131313" stroke-width="3.40" stroke-linejoin="round"/><path d="M1775.8,949 L1799.4,949 L1816.0,978 Q1801.4,995 1786.8,978 Z" fill="#F29A2E" stroke="#131313" stroke-width="3.40" stroke-linejoin="round"/><rect x="1671.8" y="998.6" width="37.0" height="65.4" fill="#4F6275" stroke="#131313" stroke-width="3.40"/><circle cx="1682.6" cy="1030.0" r="3.5" fill="#DDD" stroke="#131313" stroke-width="2.12"/><rect x="1721.4" y="998.6" width="71.1" height="50.7" fill="#75C5D1" stroke="#131313" stroke-width="3.82"/><rect x="1723.5" y="1034.5" width="67.0" height="12.8" fill="#F28A2E" stroke="#131313" stroke-width="2.98"/></g>
<g><rect x="1248.3" y="1315.0" width="23.3" height="48.4" fill="#F29D35" stroke="#131313" stroke-width="3.23"/><rect x="1282.5" y="1303.3" width="23.3" height="60.1" fill="#F29D35" stroke="#131313" stroke-width="3.23"/><rect x="1316.6" y="1302.5" width="23.4" height="60.9" fill="#F29D35" stroke="#131313" stroke-width="3.23"/><rect x="1351.6" y="1279.2" width="22.4" height="84.2" fill="#F29D35" stroke="#131313" stroke-width="3.23"/><line x1="1225.0" y1="1363.4" x2="1402.0" y2="1363.4" stroke="#131313" stroke-width="3.23" stroke-linecap="butt"/><polyline points="1241.3,1307 1285,1265.2 1320,1288.5 1377.2,1226.4" fill="none" stroke="#131313" stroke-width="4" stroke-linejoin="miter"/><polyline points="1358.6,1231 1377.2,1225.6 1377.2,1246.6" fill="none" stroke="#131313" stroke-width="4"/></g>
<path d="M1670.3,1243 L1681.5,1243 L1681.5,1359.5 L1832.5,1359.5 L1832.5,1370.8 L1670.3,1370.8 Z" fill="#6CC062" stroke="#131313" stroke-width="3.06" stroke-linejoin="round"/>
<g><path d="M1231.4,1708.8 L1233,1672 C1234,1655 1242,1648 1256,1645 L1280,1642.8 L1318.4,1642.8 L1342,1645 C1356,1648 1364,1655 1365,1672 L1366.5,1708.8 Z" fill="#4E6682" stroke="#131313" stroke-width="3.40" stroke-linejoin="round"/><path d="M1281.9,1630 L1281.9,1646 L1299,1655 L1316,1646 L1316,1630 Z" fill="#F2BF8D" stroke="#131313" stroke-width="3.40" stroke-linejoin="round"/><path d="M1278,1643 L1299,1690 L1320,1643 L1310,1641 L1299,1648 L1288,1641 Z" fill="#FFFFFF" stroke="#131313" stroke-width="2.98" stroke-linejoin="round"/><path d="M1295,1654 L1303,1654 L1306,1680 L1299,1690 L1292,1680 Z" fill="#4A5F78" stroke="#131313" stroke-width="2.55" stroke-linejoin="round"/><line x1="1263.5" y1="1681.0" x2="1263.5" y2="1708.0" stroke="#131313" stroke-width="2.98" stroke-linecap="butt"/><line x1="1335.5" y1="1681.0" x2="1335.5" y2="1708.0" stroke="#131313" stroke-width="2.98" stroke-linecap="butt"/><ellipse cx="1299" cy="1598" rx="33.5" ry="35" fill="#F2BF8D" stroke="#131313" stroke-width="4"/><path d="M1266,1590 C1264,1560 1280,1543 1299,1543 C1320,1543 1334,1560 1332,1585 L1322,1580 C1322,1574 1318,1570 1313,1572 C1305,1574 1290,1570 1278,1568 L1272,1588 Z" fill="#7B5641" stroke="#131313" stroke-width="3.40" stroke-linejoin="round"/><path d="M1260,1585 C1258,1555 1275,1537 1299,1537 C1323,1537 1340,1555 1338,1585" fill="none" stroke="#131313" stroke-width="7"/><path d="M1260,1585 C1258,1555 1275,1537 1299,1537 C1323,1537 1340,1555 1338,1585" fill="none" stroke="#9A9E9F" stroke-width="2"/><rect x="1254.0" y="1581.4" width="13.0" height="26.4" fill="#8E9494" stroke="#131313" stroke-width="2.98" rx="5"/><rect x="1332.4" y="1581.4" width="12.4" height="26.4" fill="#8E9494" stroke="#131313" stroke-width="2.98" rx="5"/><path d="M1335,1605 C1334,1614 1328,1619 1310,1619" fill="none" stroke="#131313" stroke-width="3.5"/><ellipse cx="1304" cy="1620" rx="6" ry="4" fill="#777" stroke="#131313" stroke-width="3"/></g>
<g><path d="M1705,1649 L1702,1600 C1702,1588 1710,1581 1722,1581 L1735,1581 C1747,1581 1755,1588 1755,1600 L1752,1649 Z" fill="#D4322A" stroke="#131313" stroke-width="3.40" stroke-linejoin="round"/><path d="M1712,1631 L1744.6,1631 L1744.6,1711.8 L1733,1711.8 L1731,1649 C1731,1646 1726,1646 1726,1649 L1724,1711.8 L1712,1711.8 Z" fill="#4E6480" stroke="#131313" stroke-width="3.40" stroke-linejoin="round"/><line x1="1710.5" y1="1598.0" x2="1710.5" y2="1645.0" stroke="#131313" stroke-width="2.55" stroke-linecap="butt"/><line x1="1746.0" y1="1598.0" x2="1746.0" y2="1645.0" stroke="#131313" stroke-width="2.55" stroke-linecap="butt"/><circle cx="1728.7" cy="1557.8" r="16.5" fill="#F2BF8D" stroke="#131313" stroke-width="3.40"/><path d="M1712,1556 C1712,1545 1719,1540 1729,1540 C1739,1540 1746,1545 1746,1556 Z" fill="#D4322A" stroke="#131313" stroke-width="3.40" stroke-linejoin="round"/><rect x="1709.0" y="1555.0" width="4.0" height="12.0" fill="#555" stroke="#131313" stroke-width="2.12"/><rect x="1744.0" y="1555.0" width="4.0" height="12.0" fill="#555" stroke="#131313" stroke-width="2.12"/><path d="M1772,1652 L1771,1608 C1771,1598 1778,1592 1788,1592 L1801,1592 C1811,1592 1818,1598 1818,1608 L1818.5,1652 Z" fill="#62AE6A" stroke="#131313" stroke-width="3.40" stroke-linejoin="round"/><path d="M1780,1633.5 L1808.8,1633.5 L1808.8,1711.8 L1798,1711.8 L1797,1652 C1797,1649 1792,1649 1792,1652 L1790,1711.8 L1780,1711.8 Z" fill="#4E6480" stroke="#131313" stroke-width="3.40" stroke-linejoin="round"/><line x1="1779.5" y1="1610.0" x2="1779.5" y2="1650.0" stroke="#131313" stroke-width="2.55" stroke-linecap="butt"/><line x1="1810.5" y1="1610.0" x2="1810.5" y2="1650.0" stroke="#131313" stroke-width="2.55" stroke-linecap="butt"/><circle cx="1794.7" cy="1573.0" r="14.0" fill="#F2BF8D" stroke="#131313" stroke-width="3.40"/><path d="M1780,1573 C1778,1560 1786,1554.5 1795,1554.5 C1806,1554.5 1813,1562 1812,1576 L1808,1570 C1800,1566 1790,1565 1782,1568 Z" fill="#4A5560" stroke="#131313" stroke-width="3.40" stroke-linejoin="round"/><circle cx="1669.8" cy="1643.2" r="10.6" fill="#E8E0DE" stroke="#131313" stroke-width="2.98"/><path d="M1664,1630 C1666,1626 1676,1626 1678,1630" fill="none" stroke="#131313" stroke-width="3"/><path d="M1651.3,1682 L1651.3,1666 C1651.3,1662 1654,1660.8 1658,1660.8 L1670,1660.8 C1674,1660.8 1676.8,1663 1676.8,1666 L1676.8,1682 Z" fill="#F29D35" stroke="#131313" stroke-width="2.98" stroke-linejoin="round"/><rect x="1639.8" y="1682.0" width="51.1" height="18.4" fill="#F2A038" stroke="#131313" stroke-width="2.98"/><rect x="1684.0" y="1645.0" width="9.5" height="39.6" fill="#EEE" stroke="#131313" stroke-width="2.55"/><line x1="1690.0" y1="1683.0" x2="1699.0" y2="1683.0" stroke="#131313" stroke-width="3.40" stroke-linecap="butt"/><circle cx="1645.1" cy="1705.7" r="5.6" fill="#7E8E9C" stroke="#131313" stroke-width="2.55"/><circle cx="1669.8" cy="1705.7" r="5.6" fill="#7E8E9C" stroke="#131313" stroke-width="2.55"/><circle cx="1687.4" cy="1705.7" r="5.6" fill="#7E8E9C" stroke="#131313" stroke-width="2.55"/></g>
<g fill="none" stroke="#131313"><rect x="520" y="1895.5" width="75.5" height="75" stroke-width="3"/><line x1="512" y1="1971" x2="601" y2="1971" stroke-width="3.5"/><circle cx="524" cy="1982" r="4.6" stroke-width="3"/><circle cx="590" cy="1982" r="4.6" stroke-width="3"/><line x1="529" y1="1910" x2="555" y2="1910" stroke-width="3"/><line x1="529" y1="1916.5" x2="555" y2="1916.5" stroke-width="3"/><line x1="529" y1="1923" x2="555" y2="1923" stroke-width="3"/><line x1="529" y1="1929.5" x2="555" y2="1929.5" stroke-width="3"/><line x1="529" y1="1936" x2="555" y2="1936" stroke-width="3"/><line x1="529" y1="1942.5" x2="555" y2="1942.5" stroke-width="3"/><line x1="529" y1="1949" x2="555" y2="1949" stroke-width="3"/><line x1="529" y1="1955.5" x2="555" y2="1955.5" stroke-width="3"/><line x1="562" y1="1910" x2="585" y2="1910" stroke-width="3"/><rect x="564" y="1921" width="20" height="35" stroke-width="3"/><line x1="564" y1="1938" x2="584" y2="1938" stroke-width="3"/><path d="M606,1987 L612,1955 L646,1955 L652,1987 Z" stroke-width="3"/><path d="M618,1960 L618,1950 C618,1940 640,1940 640,1950 L640,1960" stroke-width="3"/><path d="M624,1962 L624,1953 C624,1948 634,1948 634,1953 L634,1962" stroke-width="2.5"/></g>
<text transform="translate(188.90,147.60) scale(0.5443,1)" font-size="112.43" font-weight="700" fill="#141414" letter-spacing="11.023">LOGISTICS</text><text transform="translate(189.51,147.60) scale(0.5443,1)" font-size="112.43" font-weight="700" fill="#141414" letter-spacing="11.023">LOGISTICS</text><text transform="translate(190.13,147.60) scale(0.5443,1)" font-size="112.43" font-weight="700" fill="#141414" letter-spacing="11.023">LOGISTICS</text><text transform="translate(190.74,147.60) scale(0.5443,1)" font-size="112.43" font-weight="700" fill="#141414" letter-spacing="11.023">LOGISTICS</text><text transform="translate(191.36,147.60) scale(0.5443,1)" font-size="112.43" font-weight="700" fill="#141414" letter-spacing="11.023">LOGISTICS</text><text transform="translate(191.97,147.60) scale(0.5443,1)" font-size="112.43" font-weight="700" fill="#141414" letter-spacing="11.023">LOGISTICS</text><text transform="translate(192.59,147.60) scale(0.5443,1)" font-size="112.43" font-weight="700" fill="#141414" letter-spacing="11.023">LOGISTICS</text>
<text transform="translate(592.94,147.60) scale(0.5859,1)" font-size="112.43" font-weight="700" fill="#141414" letter-spacing="10.240">VS.</text><text transform="translate(593.54,147.60) scale(0.5859,1)" font-size="112.43" font-weight="700" fill="#141414" letter-spacing="10.240">VS.</text><text transform="translate(594.14,147.60) scale(0.5859,1)" font-size="112.43" font-weight="700" fill="#141414" letter-spacing="10.240">VS.</text><text transform="translate(594.75,147.60) scale(0.5859,1)" font-size="112.43" font-weight="700" fill="#141414" letter-spacing="10.240">VS.</text><text transform="translate(595.35,147.60) scale(0.5859,1)" font-size="112.43" font-weight="700" fill="#141414" letter-spacing="10.240">VS.</text><text transform="translate(595.95,147.60) scale(0.5859,1)" font-size="112.43" font-weight="700" fill="#141414" letter-spacing="10.240">VS.</text>
<text transform="translate(737.54,147.60) scale(0.5693,1)" font-size="112.43" font-weight="700" fill="#141414" letter-spacing="10.539">SUPPLY</text><text transform="translate(738.20,147.60) scale(0.5693,1)" font-size="112.43" font-weight="700" fill="#141414" letter-spacing="10.539">SUPPLY</text><text transform="translate(738.86,147.60) scale(0.5693,1)" font-size="112.43" font-weight="700" fill="#141414" letter-spacing="10.539">SUPPLY</text><text transform="translate(739.51,147.60) scale(0.5693,1)" font-size="112.43" font-weight="700" fill="#141414" letter-spacing="10.539">SUPPLY</text><text transform="translate(740.17,147.60) scale(0.5693,1)" font-size="112.43" font-weight="700" fill="#141414" letter-spacing="10.539">SUPPLY</text><text transform="translate(740.83,147.60) scale(0.5693,1)" font-size="112.43" font-weight="700" fill="#141414" letter-spacing="10.539">SUPPLY</text>
<text transform="translate(1042.42,147.60) scale(0.6022,1)" font-size="112.43" font-weight="700" fill="#141414" letter-spacing="9.963">CHAIN</text><text transform="translate(1042.97,147.60) scale(0.6022,1)" font-size="112.43" font-weight="700" fill="#141414" letter-spacing="9.963">CHAIN</text><text transform="translate(1043.52,147.60) scale(0.6022,1)" font-size="112.43" font-weight="700" fill="#141414" letter-spacing="9.963">CHAIN</text><text transform="translate(1044.07,147.60) scale(0.6022,1)" font-size="112.43" font-weight="700" fill="#141414" letter-spacing="9.963">CHAIN</text><text transform="translate(1044.62,147.60) scale(0.6022,1)" font-size="112.43" font-weight="700" fill="#141414" letter-spacing="9.963">CHAIN</text><text transform="translate(1045.17,147.60) scale(0.6022,1)" font-size="112.43" font-weight="700" fill="#141414" letter-spacing="9.963">CHAIN</text>
<text transform="translate(1307.11,147.60) scale(0.6094,1)" font-size="112.43" font-weight="700" fill="#141414" letter-spacing="9.846">MANAGEMENT:</text><text transform="translate(1307.77,147.60) scale(0.6094,1)" font-size="112.43" font-weight="700" fill="#141414" letter-spacing="9.846">MANAGEMENT:</text><text transform="translate(1308.43,147.60) scale(0.6094,1)" font-size="112.43" font-weight="700" fill="#141414" letter-spacing="9.846">MANAGEMENT:</text><text transform="translate(1309.09,147.60) scale(0.6094,1)" font-size="112.43" font-weight="700" fill="#141414" letter-spacing="9.846">MANAGEMENT:</text><text transform="translate(1309.74,147.60) scale(0.6094,1)" font-size="112.43" font-weight="700" fill="#141414" letter-spacing="9.846">MANAGEMENT:</text>
<text transform="translate(573.94,263.00) scale(0.5794,1)" font-size="109.01" font-weight="700" fill="#141414" letter-spacing="10.356">WHAT’S</text><text transform="translate(574.50,263.00) scale(0.5794,1)" font-size="109.01" font-weight="700" fill="#141414" letter-spacing="10.356">WHAT’S</text><text transform="translate(575.07,263.00) scale(0.5794,1)" font-size="109.01" font-weight="700" fill="#141414" letter-spacing="10.356">WHAT’S</text><text transform="translate(575.64,263.00) scale(0.5794,1)" font-size="109.01" font-weight="700" fill="#141414" letter-spacing="10.356">WHAT’S</text><text transform="translate(576.21,263.00) scale(0.5794,1)" font-size="109.01" font-weight="700" fill="#141414" letter-spacing="10.356">WHAT’S</text><text transform="translate(576.77,263.00) scale(0.5794,1)" font-size="109.01" font-weight="700" fill="#141414" letter-spacing="10.356">WHAT’S</text><text transform="translate(577.34,263.00) scale(0.5794,1)" font-size="109.01" font-weight="700" fill="#141414" letter-spacing="10.356">WHAT’S</text>
<text transform="translate(870.63,263.00) scale(0.5623,1)" font-size="109.01" font-weight="700" fill="#141414" letter-spacing="10.671">THE</text><text transform="translate(871.24,263.00) scale(0.5623,1)" font-size="109.01" font-weight="700" fill="#141414" letter-spacing="10.671">THE</text><text transform="translate(871.85,263.00) scale(0.5623,1)" font-size="109.01" font-weight="700" fill="#141414" letter-spacing="10.671">THE</text><text transform="translate(872.46,263.00) scale(0.5623,1)" font-size="109.01" font-weight="700" fill="#141414" letter-spacing="10.671">THE</text><text transform="translate(873.07,263.00) scale(0.5623,1)" font-size="109.01" font-weight="700" fill="#141414" letter-spacing="10.671">THE</text><text transform="translate(873.69,263.00) scale(0.5623,1)" font-size="109.01" font-weight="700" fill="#141414" letter-spacing="10.671">THE</text><text transform="translate(874.30,263.00) scale(0.5623,1)" font-size="109.01" font-weight="700" fill="#141414" letter-spacing="10.671">THE</text>
<text transform="translate(1030.80,263.00) scale(0.5472,1)" font-size="109.01" font-weight="700" fill="#141414" letter-spacing="10.965">DIFFERENCE?</text><text transform="translate(1031.36,263.00) scale(0.5472,1)" font-size="109.01" font-weight="700" fill="#141414" letter-spacing="10.965">DIFFERENCE?</text><text transform="translate(1031.92,263.00) scale(0.5472,1)" font-size="109.01" font-weight="700" fill="#141414" letter-spacing="10.965">DIFFERENCE?</text><text transform="translate(1032.48,263.00) scale(0.5472,1)" font-size="109.01" font-weight="700" fill="#141414" letter-spacing="10.965">DIFFERENCE?</text><text transform="translate(1033.04,263.00) scale(0.5472,1)" font-size="109.01" font-weight="700" fill="#141414" letter-spacing="10.965">DIFFERENCE?</text><text transform="translate(1033.60,263.00) scale(0.5472,1)" font-size="109.01" font-weight="700" fill="#141414" letter-spacing="10.965">DIFFERENCE?</text><text transform="translate(1034.16,263.00) scale(0.5472,1)" font-size="109.01" font-weight="700" fill="#141414" letter-spacing="10.965">DIFFERENCE?</text><text transform="translate(1034.71,263.00) scale(0.5472,1)" font-size="109.01" font-weight="700" fill="#141414" letter-spacing="10.965">DIFFERENCE?</text>
<text transform="translate(337.91,429.20) scale(0.5339,1)" font-size="86.48" font-weight="700" fill="#141414" letter-spacing="9.364">LOGISTICS</text><text transform="translate(338.52,429.20) scale(0.5339,1)" font-size="86.48" font-weight="700" fill="#141414" letter-spacing="9.364">LOGISTICS</text><text transform="translate(339.13,429.20) scale(0.5339,1)" font-size="86.48" font-weight="700" fill="#141414" letter-spacing="9.364">LOGISTICS</text><text transform="translate(339.74,429.20) scale(0.5339,1)" font-size="86.48" font-weight="700" fill="#141414" letter-spacing="9.364">LOGISTICS</text><text transform="translate(340.35,429.20) scale(0.5339,1)" font-size="86.48" font-weight="700" fill="#141414" letter-spacing="9.364">LOGISTICS</text><text transform="translate(340.96,429.20) scale(0.5339,1)" font-size="86.48" font-weight="700" fill="#141414" letter-spacing="9.364">LOGISTICS</text>
<text transform="translate(1177.71,431.30) scale(0.5704,1)" font-size="77.76" font-weight="700" fill="#141414" letter-spacing="7.013">SUPPLY</text><text transform="translate(1178.37,431.30) scale(0.5704,1)" font-size="77.76" font-weight="700" fill="#141414" letter-spacing="7.013">SUPPLY</text><text transform="translate(1179.02,431.30) scale(0.5704,1)" font-size="77.76" font-weight="700" fill="#141414" letter-spacing="7.013">SUPPLY</text><text transform="translate(1179.67,431.30) scale(0.5704,1)" font-size="77.76" font-weight="700" fill="#141414" letter-spacing="7.013">SUPPLY</text><text transform="translate(1180.33,431.30) scale(0.5704,1)" font-size="77.76" font-weight="700" fill="#141414" letter-spacing="7.013">SUPPLY</text>
<text transform="translate(1388.89,431.30) scale(0.5993,1)" font-size="77.76" font-weight="700" fill="#141414" letter-spacing="6.674">CHAIN</text><text transform="translate(1389.46,431.30) scale(0.5993,1)" font-size="77.76" font-weight="700" fill="#141414" letter-spacing="6.674">CHAIN</text><text transform="translate(1390.03,431.30) scale(0.5993,1)" font-size="77.76" font-weight="700" fill="#141414" letter-spacing="6.674">CHAIN</text><text transform="translate(1390.61,431.30) scale(0.5993,1)" font-size="77.76" font-weight="700" fill="#141414" letter-spacing="6.674">CHAIN</text><text transform="translate(1391.18,431.30) scale(0.5993,1)" font-size="77.76" font-weight="700" fill="#141414" letter-spacing="6.674">CHAIN</text>
<text transform="translate(1570.85,431.30) scale(0.6038,1)" font-size="77.76" font-weight="700" fill="#141414" letter-spacing="6.625">MANAGEMENT</text><text transform="translate(1571.41,431.30) scale(0.6038,1)" font-size="77.76" font-weight="700" fill="#141414" letter-spacing="6.625">MANAGEMENT</text><text transform="translate(1571.97,431.30) scale(0.6038,1)" font-size="77.76" font-weight="700" fill="#141414" letter-spacing="6.625">MANAGEMENT</text><text transform="translate(1572.53,431.30) scale(0.6038,1)" font-size="77.76" font-weight="700" fill="#141414" letter-spacing="6.625">MANAGEMENT</text><text transform="translate(1573.09,431.30) scale(0.6038,1)" font-size="77.76" font-weight="700" fill="#141414" letter-spacing="6.625">MANAGEMENT</text>
<text transform="translate(74.06,1064.00) scale(0.5416,1)" font-size="43.60" font-weight="400" fill="#141414" letter-spacing="2.954">FOCUSES ON THE MOVEMENT</text><text transform="translate(74.66,1064.00) scale(0.5416,1)" font-size="43.60" font-weight="400" fill="#141414" letter-spacing="2.954">FOCUSES ON THE MOVEMENT</text><text transform="translate(75.25,1064.00) scale(0.5416,1)" font-size="43.60" font-weight="400" fill="#141414" letter-spacing="2.954">FOCUSES ON THE MOVEMENT</text><text transform="translate(75.84,1064.00) scale(0.5416,1)" font-size="43.60" font-weight="400" fill="#141414" letter-spacing="2.954">FOCUSES ON THE MOVEMENT</text>
<text transform="translate(109.95,1113.00) scale(0.5114,1)" font-size="45.06" font-weight="400" fill="#141414" letter-spacing="3.129">AND STORAGE OF GOODS</text><text transform="translate(110.57,1113.00) scale(0.5114,1)" font-size="45.06" font-weight="400" fill="#141414" letter-spacing="3.129">AND STORAGE OF GOODS</text><text transform="translate(111.18,1113.00) scale(0.5114,1)" font-size="45.06" font-weight="400" fill="#141414" letter-spacing="3.129">AND STORAGE OF GOODS</text><text transform="translate(111.79,1113.00) scale(0.5114,1)" font-size="45.06" font-weight="400" fill="#141414" letter-spacing="3.129">AND STORAGE OF GOODS</text>
<text transform="translate(511.70,1094.00) scale(0.5552,1)" font-size="45.06" font-weight="400" fill="#141414" letter-spacing="2.882">INVENTORY MANAGEMENT</text><text transform="translate(512.25,1094.00) scale(0.5552,1)" font-size="45.06" font-weight="400" fill="#141414" letter-spacing="2.882">INVENTORY MANAGEMENT</text><text transform="translate(512.80,1094.00) scale(0.5552,1)" font-size="45.06" font-weight="400" fill="#141414" letter-spacing="2.882">INVENTORY MANAGEMENT</text><text transform="translate(513.35,1094.00) scale(0.5552,1)" font-size="45.06" font-weight="400" fill="#141414" letter-spacing="2.882">INVENTORY MANAGEMENT</text>
<text transform="translate(149.48,1400.00) scale(0.5468,1)" font-size="42.88" font-weight="400" fill="#141414" letter-spacing="2.926">TRANSPORTATION</text><text transform="translate(150.08,1400.00) scale(0.5468,1)" font-size="42.88" font-weight="400" fill="#141414" letter-spacing="2.926">TRANSPORTATION</text><text transform="translate(150.68,1400.00) scale(0.5468,1)" font-size="42.88" font-weight="400" fill="#141414" letter-spacing="2.926">TRANSPORTATION</text><text transform="translate(151.28,1400.00) scale(0.5468,1)" font-size="42.88" font-weight="400" fill="#141414" letter-spacing="2.926">TRANSPORTATION</text>
<text transform="translate(569.27,1391.00) scale(0.5311,1)" font-size="45.06" font-weight="400" fill="#141414" letter-spacing="3.013">TRANSPORTATION</text><text transform="translate(569.86,1391.00) scale(0.5311,1)" font-size="45.06" font-weight="400" fill="#141414" letter-spacing="3.013">TRANSPORTATION</text><text transform="translate(570.44,1391.00) scale(0.5311,1)" font-size="45.06" font-weight="400" fill="#141414" letter-spacing="3.013">TRANSPORTATION</text><text transform="translate(571.02,1391.00) scale(0.5311,1)" font-size="45.06" font-weight="400" fill="#141414" letter-spacing="3.013">TRANSPORTATION</text>
<text transform="translate(170.57,1702.00) scale(0.5621,1)" font-size="44.04" font-weight="400" fill="#141414" letter-spacing="2.847">DISTRIBUTION</text><text transform="translate(171.13,1702.00) scale(0.5621,1)" font-size="44.04" font-weight="400" fill="#141414" letter-spacing="2.847">DISTRIBUTION</text><text transform="translate(171.69,1702.00) scale(0.5621,1)" font-size="44.04" font-weight="400" fill="#141414" letter-spacing="2.847">DISTRIBUTION</text><text transform="translate(172.24,1702.00) scale(0.5621,1)" font-size="44.04" font-weight="400" fill="#141414" letter-spacing="2.847">DISTRIBUTION</text>
<text transform="translate(571.89,1702.30) scale(0.5675,1)" font-size="47.38" font-weight="400" fill="#141414" letter-spacing="2.819">WAREHOUING</text><text transform="translate(572.63,1702.30) scale(0.5675,1)" font-size="47.38" font-weight="400" fill="#141414" letter-spacing="2.819">WAREHOUING</text><text transform="translate(573.36,1702.30) scale(0.5675,1)" font-size="47.38" font-weight="400" fill="#141414" letter-spacing="2.819">WAREHOUING</text>
<text transform="translate(1396.17,1125.00) scale(0.5481,1)" font-size="40.70" font-weight="400" fill="#141414" letter-spacing="2.919">ENCOMPASSES THE ENTIRE PROCESS FROM</text><text transform="translate(1396.81,1125.00) scale(0.5481,1)" font-size="40.70" font-weight="400" fill="#141414" letter-spacing="2.919">ENCOMPASSES THE ENTIRE PROCESS FROM</text><text transform="translate(1397.44,1125.00) scale(0.5481,1)" font-size="40.70" font-weight="400" fill="#141414" letter-spacing="2.919">ENCOMPASSES THE ENTIRE PROCESS FROM</text><text transform="translate(1398.07,1125.00) scale(0.5481,1)" font-size="40.70" font-weight="400" fill="#141414" letter-spacing="2.919">ENCOMPASSES THE ENTIRE PROCESS FROM</text>
<text transform="translate(1395.24,1170.00) scale(0.5288,1)" font-size="40.70" font-weight="400" fill="#141414" letter-spacing="3.026">RAW MATERIALS\L CUSTOMER DELIVERY</text><text transform="translate(1395.89,1170.00) scale(0.5288,1)" font-size="40.70" font-weight="400" fill="#141414" letter-spacing="3.026">RAW MATERIALS\L CUSTOMER DELIVERY</text><text transform="translate(1396.55,1170.00) scale(0.5288,1)" font-size="40.70" font-weight="400" fill="#141414" letter-spacing="3.026">RAW MATERIALS\L CUSTOMER DELIVERY</text><text transform="translate(1397.21,1170.00) scale(0.5288,1)" font-size="40.70" font-weight="400" fill="#141414" letter-spacing="3.026">RAW MATERIALS\L CUSTOMER DELIVERY</text>
<text transform="translate(1201.28,1422.80) scale(0.5751,1)" font-size="42.88" font-weight="400" fill="#141414" letter-spacing="2.782">MANUFACTURING</text><text transform="translate(1201.84,1422.80) scale(0.5751,1)" font-size="42.88" font-weight="400" fill="#141414" letter-spacing="2.782">MANUFACTURING</text><text transform="translate(1202.40,1422.80) scale(0.5751,1)" font-size="42.88" font-weight="400" fill="#141414" letter-spacing="2.782">MANUFACTURING</text><text transform="translate(1202.96,1422.80) scale(0.5751,1)" font-size="42.88" font-weight="400" fill="#141414" letter-spacing="2.782">MANUFACTURING</text>
<text transform="translate(1689.62,1299.20) scale(0.5920,1)" font-size="40.70" font-weight="400" fill="#141414" letter-spacing="2.703">DEMAND</text><text transform="translate(1690.20,1299.20) scale(0.5920,1)" font-size="40.70" font-weight="400" fill="#141414" letter-spacing="2.703">DEMAND</text><text transform="translate(1690.78,1299.20) scale(0.5920,1)" font-size="40.70" font-weight="400" fill="#141414" letter-spacing="2.703">DEMAND</text><text transform="translate(1691.36,1299.20) scale(0.5920,1)" font-size="40.70" font-weight="400" fill="#141414" letter-spacing="2.703">DEMAND</text>
<text transform="translate(1688.08,1343.40) scale(0.5772,1)" font-size="40.55" font-weight="400" fill="#141414" letter-spacing="2.772">PLANNING</text><text transform="translate(1688.68,1343.40) scale(0.5772,1)" font-size="40.55" font-weight="400" fill="#141414" letter-spacing="2.772">PLANNING</text><text transform="translate(1689.28,1343.40) scale(0.5772,1)" font-size="40.55" font-weight="400" fill="#141414" letter-spacing="2.772">PLANNING</text><text transform="translate(1689.88,1343.40) scale(0.5772,1)" font-size="40.55" font-weight="400" fill="#141414" letter-spacing="2.772">PLANNING</text>
<text transform="translate(1618.00,1422.60) scale(0.5727,1)" font-size="40.55" font-weight="400" fill="#141414" letter-spacing="2.794">DEMANED PLANNING</text><text transform="translate(1618.60,1422.60) scale(0.5727,1)" font-size="40.55" font-weight="400" fill="#141414" letter-spacing="2.794">DEMANED PLANNING</text><text transform="translate(1619.21,1422.60) scale(0.5727,1)" font-size="40.55" font-weight="400" fill="#141414" letter-spacing="2.794">DEMANED PLANNING</text><text transform="translate(1619.81,1422.60) scale(0.5727,1)" font-size="40.55" font-weight="400" fill="#141414" letter-spacing="2.794">DEMANED PLANNING</text>
<text transform="translate(1180.55,1767.00) scale(0.5254,1)" font-size="42.88" font-weight="400" fill="#141414" letter-spacing="3.046">CUSTOMER SERVICE</text><text transform="translate(1181.18,1767.00) scale(0.5254,1)" font-size="42.88" font-weight="400" fill="#141414" letter-spacing="3.046">CUSTOMER SERVICE</text><text transform="translate(1181.81,1767.00) scale(0.5254,1)" font-size="42.88" font-weight="400" fill="#141414" letter-spacing="3.046">CUSTOMER SERVICE</text><text transform="translate(1182.43,1767.00) scale(0.5254,1)" font-size="42.88" font-weight="400" fill="#141414" letter-spacing="3.046">CUSTOMER SERVICE</text>
<text transform="translate(1600.89,1767.40) scale(0.5604,1)" font-size="42.30" font-weight="400" fill="#141414" letter-spacing="2.855">OVERALL STRATEGY &amp;</text><text transform="translate(1601.48,1767.40) scale(0.5604,1)" font-size="42.30" font-weight="400" fill="#141414" letter-spacing="2.855">OVERALL STRATEGY &amp;</text><text transform="translate(1602.07,1767.40) scale(0.5604,1)" font-size="42.30" font-weight="400" fill="#141414" letter-spacing="2.855">OVERALL STRATEGY &amp;</text><text transform="translate(1602.66,1767.40) scale(0.5604,1)" font-size="42.30" font-weight="400" fill="#141414" letter-spacing="2.855">OVERALL STRATEGY &amp;</text>
<text transform="translate(1664.80,1814.00) scale(0.5486,1)" font-size="43.60" font-weight="400" fill="#141414" letter-spacing="2.916">INTEGRATION</text><text transform="translate(1665.38,1814.00) scale(0.5486,1)" font-size="43.60" font-weight="400" fill="#141414" letter-spacing="2.916">INTEGRATION</text><text transform="translate(1665.97,1814.00) scale(0.5486,1)" font-size="43.60" font-weight="400" fill="#141414" letter-spacing="2.916">INTEGRATION</text><text transform="translate(1666.55,1814.00) scale(0.5486,1)" font-size="43.60" font-weight="400" fill="#141414" letter-spacing="2.916">INTEGRATION</text>
<text transform="translate(658.75,1934.70) scale(0.5421,1)" font-size="57.27" font-weight="400" fill="#141414" letter-spacing="2.767">LOGISTICS</text><text transform="translate(659.45,1934.70) scale(0.5421,1)" font-size="57.27" font-weight="400" fill="#141414" letter-spacing="2.767">LOGISTICS</text><text transform="translate(660.14,1934.70) scale(0.5421,1)" font-size="57.27" font-weight="400" fill="#141414" letter-spacing="2.767">LOGISTICS</text><text transform="translate(660.84,1934.70) scale(0.5421,1)" font-size="57.27" font-weight="400" fill="#141414" letter-spacing="2.767">LOGISTICS</text>
<text transform="translate(847.03,1934.70) scale(0.4874,1)" font-size="57.27" font-weight="400" fill="#141414" letter-spacing="3.078">IS</text><text transform="translate(847.63,1934.70) scale(0.4874,1)" font-size="57.27" font-weight="400" fill="#141414" letter-spacing="3.078">IS</text><text transform="translate(848.22,1934.70) scale(0.4874,1)" font-size="57.27" font-weight="400" fill="#141414" letter-spacing="3.078">IS</text><text transform="translate(848.81,1934.70) scale(0.4874,1)" font-size="57.27" font-weight="400" fill="#141414" letter-spacing="3.078">IS</text><text transform="translate(849.41,1934.70) scale(0.4874,1)" font-size="57.27" font-weight="400" fill="#141414" letter-spacing="3.078">IS</text>
<text transform="translate(886.94,1934.70) scale(0.5647,1)" font-size="57.27" font-weight="400" fill="#141414" letter-spacing="2.656">A</text><text transform="translate(887.59,1934.70) scale(0.5647,1)" font-size="57.27" font-weight="400" fill="#141414" letter-spacing="2.656">A</text><text transform="translate(888.24,1934.70) scale(0.5647,1)" font-size="57.27" font-weight="400" fill="#141414" letter-spacing="2.656">A</text><text transform="translate(888.90,1934.70) scale(0.5647,1)" font-size="57.27" font-weight="400" fill="#141414" letter-spacing="2.656">A</text>
<text transform="translate(919.27,1934.70) scale(0.5181,1)" font-size="57.27" font-weight="400" fill="#141414" letter-spacing="2.895">PART</text><text transform="translate(919.82,1934.70) scale(0.5181,1)" font-size="57.27" font-weight="400" fill="#141414" letter-spacing="2.895">PART</text><text transform="translate(920.37,1934.70) scale(0.5181,1)" font-size="57.27" font-weight="400" fill="#141414" letter-spacing="2.895">PART</text><text transform="translate(920.93,1934.70) scale(0.5181,1)" font-size="57.27" font-weight="400" fill="#141414" letter-spacing="2.895">PART</text><text transform="translate(921.48,1934.70) scale(0.5181,1)" font-size="57.27" font-weight="400" fill="#141414" letter-spacing="2.895">PART</text>
<text transform="translate(1013.81,1934.70) scale(0.5175,1)" font-size="57.27" font-weight="400" fill="#141414" letter-spacing="2.899">OF</text><text transform="translate(1014.36,1934.70) scale(0.5175,1)" font-size="57.27" font-weight="400" fill="#141414" letter-spacing="2.899">OF</text><text transform="translate(1014.91,1934.70) scale(0.5175,1)" font-size="57.27" font-weight="400" fill="#141414" letter-spacing="2.899">OF</text><text transform="translate(1015.47,1934.70) scale(0.5175,1)" font-size="57.27" font-weight="400" fill="#141414" letter-spacing="2.899">OF</text><text transform="translate(1016.02,1934.70) scale(0.5175,1)" font-size="57.27" font-weight="400" fill="#141414" letter-spacing="2.899">OF</text>
<text transform="translate(1065.26,1934.70) scale(0.5670,1)" font-size="57.27" font-weight="700" fill="#141414" letter-spacing="2.645">SUPPLY</text><text transform="translate(1065.82,1934.70) scale(0.5670,1)" font-size="57.27" font-weight="700" fill="#141414" letter-spacing="2.645">SUPPLY</text><text transform="translate(1066.38,1934.70) scale(0.5670,1)" font-size="57.27" font-weight="700" fill="#141414" letter-spacing="2.645">SUPPLY</text>
<text transform="translate(1210.26,1934.70) scale(0.6136,1)" font-size="57.27" font-weight="700" fill="#141414" letter-spacing="2.444">CHAIN</text><text transform="translate(1211.00,1934.70) scale(0.6136,1)" font-size="57.27" font-weight="700" fill="#141414" letter-spacing="2.444">CHAIN</text>
<text transform="translate(1338.31,1934.70) scale(0.5972,1)" font-size="57.27" font-weight="700" fill="#141414" letter-spacing="2.512">MANAGEMENT</text><text transform="translate(1339.18,1934.70) scale(0.5972,1)" font-size="57.27" font-weight="700" fill="#141414" letter-spacing="2.512">MANAGEMENT</text>
<text transform="translate(669.23,1990.30) scale(0.5765,1)" font-size="52.33" font-weight="400" fill="#141414" letter-spacing="2.602">LOGISTICN</text><text transform="translate(669.77,1990.30) scale(0.5765,1)" font-size="52.33" font-weight="400" fill="#141414" letter-spacing="2.602">LOGISTICN</text><text transform="translate(670.31,1990.30) scale(0.5765,1)" font-size="52.33" font-weight="400" fill="#141414" letter-spacing="2.602">LOGISTICN</text><text transform="translate(670.85,1990.30) scale(0.5765,1)" font-size="52.33" font-weight="400" fill="#141414" letter-spacing="2.602">LOGISTICN</text><text transform="translate(671.39,1990.30) scale(0.5765,1)" font-size="52.33" font-weight="400" fill="#141414" letter-spacing="2.602">LOGISTICN</text>
<text transform="translate(858.50,1990.30) scale(0.5268,1)" font-size="52.33" font-weight="400" fill="#141414" letter-spacing="2.847">OF</text><text transform="translate(859.11,1990.30) scale(0.5268,1)" font-size="52.33" font-weight="400" fill="#141414" letter-spacing="2.847">OF</text><text transform="translate(859.71,1990.30) scale(0.5268,1)" font-size="52.33" font-weight="400" fill="#141414" letter-spacing="2.847">OF</text><text transform="translate(860.31,1990.30) scale(0.5268,1)" font-size="52.33" font-weight="400" fill="#141414" letter-spacing="2.847">OF</text><text transform="translate(860.91,1990.30) scale(0.5268,1)" font-size="52.33" font-weight="400" fill="#141414" letter-spacing="2.847">OF</text>
<text transform="translate(911.81,1990.30) scale(0.5333,1)" font-size="52.33" font-weight="400" fill="#141414" letter-spacing="2.813">L(OGISESIICES</text><text transform="translate(912.41,1990.30) scale(0.5333,1)" font-size="52.33" font-weight="400" fill="#141414" letter-spacing="2.813">L(OGISESIICES</text><text transform="translate(913.00,1990.30) scale(0.5333,1)" font-size="52.33" font-weight="400" fill="#141414" letter-spacing="2.813">L(OGISESIICES</text><text transform="translate(913.59,1990.30) scale(0.5333,1)" font-size="52.33" font-weight="400" fill="#141414" letter-spacing="2.813">L(OGISESIICES</text><text transform="translate(914.19,1990.30) scale(0.5333,1)" font-size="52.33" font-weight="400" fill="#141414" letter-spacing="2.813">L(OGISESIICES</text>
<text transform="translate(1144.82,1990.30) scale(0.5361,1)" font-size="52.33" font-weight="400" fill="#141414" letter-spacing="2.798">IS</text><text transform="translate(1145.41,1990.30) scale(0.5361,1)" font-size="52.33" font-weight="400" fill="#141414" letter-spacing="2.798">IS</text><text transform="translate(1146.00,1990.30) scale(0.5361,1)" font-size="52.33" font-weight="400" fill="#141414" letter-spacing="2.798">IS</text><text transform="translate(1146.59,1990.30) scale(0.5361,1)" font-size="52.33" font-weight="400" fill="#141414" letter-spacing="2.798">IS</text><text transform="translate(1147.18,1990.30) scale(0.5361,1)" font-size="52.33" font-weight="400" fill="#141414" letter-spacing="2.798">IS</text>
<text transform="translate(1182.74,1990.30) scale(0.5743,1)" font-size="52.33" font-weight="400" fill="#141414" letter-spacing="2.612">A</text><text transform="translate(1183.28,1990.30) scale(0.5743,1)" font-size="52.33" font-weight="400" fill="#141414" letter-spacing="2.612">A</text><text transform="translate(1183.83,1990.30) scale(0.5743,1)" font-size="52.33" font-weight="400" fill="#141414" letter-spacing="2.612">A</text><text transform="translate(1184.37,1990.30) scale(0.5743,1)" font-size="52.33" font-weight="400" fill="#141414" letter-spacing="2.612">A</text><text transform="translate(1184.91,1990.30) scale(0.5743,1)" font-size="52.33" font-weight="400" fill="#141414" letter-spacing="2.612">A</text>
<text transform="translate(1214.65,1990.30) scale(0.4780,1)" font-size="52.33" font-weight="400" fill="#141414" letter-spacing="3.138">KEY</text><text transform="translate(1215.31,1990.30) scale(0.4780,1)" font-size="52.33" font-weight="400" fill="#141414" letter-spacing="3.138">KEY</text><text transform="translate(1215.97,1990.30) scale(0.4780,1)" font-size="52.33" font-weight="400" fill="#141414" letter-spacing="3.138">KEY</text><text transform="translate(1216.64,1990.30) scale(0.4780,1)" font-size="52.33" font-weight="400" fill="#141414" letter-spacing="3.138">KEY</text><text transform="translate(1217.30,1990.30) scale(0.4780,1)" font-size="52.33" font-weight="400" fill="#141414" letter-spacing="3.138">KEY</text>
<text transform="translate(1281.63,1990.30) scale(0.5499,1)" font-size="52.33" font-weight="400" fill="#141414" letter-spacing="2.728">COMPONENT</text><text transform="translate(1282.21,1990.30) scale(0.5499,1)" font-size="52.33" font-weight="400" fill="#141414" letter-spacing="2.728">COMPONENT</text><text transform="translate(1282.78,1990.30) scale(0.5499,1)" font-size="52.33" font-weight="400" fill="#141414" letter-spacing="2.728">COMPONENT</text><text transform="translate(1283.35,1990.30) scale(0.5499,1)" font-size="52.33" font-weight="400" fill="#141414" letter-spacing="2.728">COMPONENT</text><text transform="translate(1283.93,1990.30) scale(0.5499,1)" font-size="52.33" font-weight="400" fill="#141414" letter-spacing="2.728">COMPONENT</text>
</svg>
</body></html>
